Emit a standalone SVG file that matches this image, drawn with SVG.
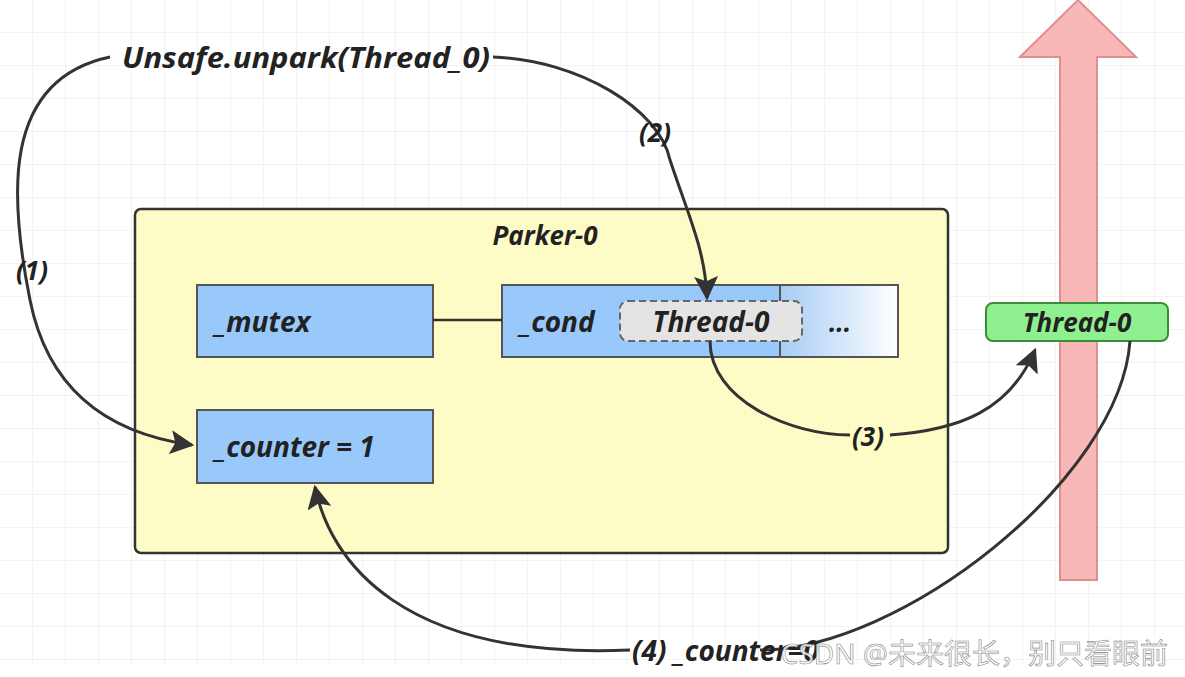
<svg xmlns="http://www.w3.org/2000/svg" width="1185" height="677" viewBox="0 0 1185 677">
<defs>
<pattern id="grid" width="33" height="33" patternUnits="userSpaceOnUse"><path d="M33 0V33H0" fill="none" stroke="#e6e6e6" stroke-width="1"/></pattern>
<marker id="ahb" viewBox="0 0 10 10" refX="9" refY="5" markerWidth="24" markerHeight="24" orient="auto-start-reverse" markerUnits="userSpaceOnUse"><path d="M0 0L10 5L0 10L2 5z" fill="#333"/></marker>
<linearGradient id="fade" x1="0" x2="1"><stop offset="0" stop-color="#a6ccf5"/><stop offset="1" stop-color="#ffffff"/></linearGradient>
</defs>
<style>
.t{font-family:"Open Sans","DejaVu Sans",sans-serif;font-style:italic;font-weight:bold;fill:#222;}
.box{fill:#99c9fb;stroke:#555;stroke-width:2;}
.c{fill:none;stroke:#333;stroke-width:3;}
</style>
<rect width="1185" height="677" fill="#fff"/>
<rect width="1185" height="665" fill="url(#grid)"/>
<g id="arrow-big"><path d="M1060 580V57H1020L1078 0L1136 57H1097V580z" fill="#f8b8b8" stroke="#e08f8f" stroke-width="2"/></g>
<g id="parker"><rect x="135" y="209" width="813" height="344" rx="6" fill="#fdfcc6" stroke="#333" stroke-width="2.5"/><text class="t" x="545" y="245" font-size="26" text-anchor="middle">Parker-0</text></g>
<g id="mutex"><rect class="box" x="197" y="285" width="236" height="72"/><text class="t" x="215" y="332" font-size="28">_mutex</text></g>
<g id="cond"><rect class="box" x="502" y="285" width="278" height="72"/><rect x="780" y="285" width="118" height="72" fill="url(#fade)" stroke="#555" stroke-width="2"/><text class="t" x="520" y="332" font-size="28">_cond</text>
<rect x="620" y="301" width="182" height="40" rx="8" fill="#e4e4e4" stroke="#666" stroke-width="2" stroke-dasharray="7,4"/><text class="t" x="711" y="332" font-size="28" text-anchor="middle">Thread-0</text><text class="t" x="840" y="332" font-size="26" text-anchor="middle">...</text></g>
<g id="counter"><rect class="box" x="197" y="410" width="236" height="73"/><text class="t" x="215" y="457" font-size="28">_counter = 1</text></g>
<g id="thread"><rect x="986" y="303" width="182" height="38" rx="7" fill="#8ff08f" stroke="#3c8c3c" stroke-width="2"/><text class="t" x="1077" y="332" font-size="26" text-anchor="middle">Thread-0</text></g>
<g id="unpark"><text class="t" x="122" y="68" font-size="29" textLength="368" lengthAdjust="spacingAndGlyphs">Unsafe.unpark(Thread_0)</text></g>
<g id="connectors">
<line x1="433" y1="320" x2="502" y2="320" stroke="#333" stroke-width="2.5"/>
<path class="c" d="M110 57C0 80 10 200 30 300C50 400 120 435 192 445" marker-end="url(#ahb)"/>
<path class="c" d="M493 57C580 60 660 110 670 160C690 220 705 250 707 298" marker-end="url(#ahb)"/>
<path class="c" d="M710 341C710 400 790 435 850 435M890 435C960 430 1010 410 1035 350" marker-end="url(#ahb)"/>
<path class="c" d="M1130 341C1120 480 900 650 760 650M630 650C400 660 330 560 315 487" marker-end="url(#ahb)"/>
</g>
<g id="labels">
<text class="t" x="32" y="280" font-size="26" text-anchor="middle">(1)</text>
<text class="t" x="655" y="142" font-size="26" text-anchor="middle">(2)</text>
<text class="t" x="868" y="446" font-size="26" text-anchor="middle">(3)</text>
<text class="t" x="632" y="661" font-size="28">(4) _counter=0</text>
<text x="1168" y="664" font-size="28" text-anchor="end" fill="#fff" fill-opacity="0.85" stroke="#888" stroke-width="0.6" font-family="'Noto Sans','Noto Sans CJK SC',sans-serif">CSDN @未来很长，别只看眼前</text>
</g>
</svg>
